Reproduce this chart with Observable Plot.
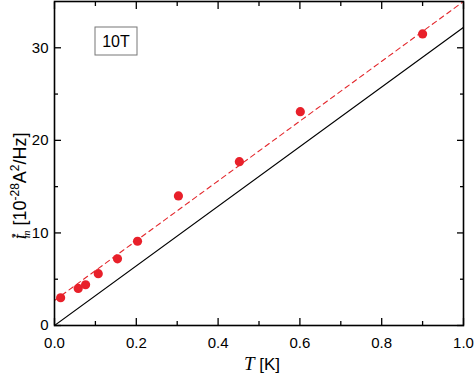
<!DOCTYPE html>
<html>
<head>
<meta charset="utf-8">
<script src="https://cdn.jsdelivr.net/npm/d3@7"></script>
<script src="https://cdn.jsdelivr.net/npm/@observablehq/plot@0.6"></script>
<style>
  html, body { margin: 0; padding: 0; background: #fff; }
  #chart { position: relative; width: 474px; height: 375px; }
</style>
</head>
<body>
<div id="chart"></div>
<script>
// Measured points
const temps = [0.015, 0.058, 0.076, 0.107, 0.154, 0.203, 0.303, 0.452, 0.601, 0.900];
const noise = [3.0, 4.0, 4.4, 5.6, 7.2, 9.1, 14.0, 17.7, 23.1, 31.5];
// Line endpoints
const lineT = [0, 1];
const dashedY = [2.7, 35.0];
const solidY = [0, 32.2];
// Ticks
const xMajor = [0, 0.2, 0.4, 0.6, 0.8, 1.0];
const xMinor = [0.1, 0.3, 0.5, 0.7, 0.9];
const yMajor = [0, 10, 20, 30];
const yMinor = [5, 15, 25];
const legendLabel = "10T";

const pts = temps.map((t, i) => ({T: t, v: noise[i]}));
const dashed = lineT.map((t, i) => ({T: t, v: dashedY[i]}));
const solid = lineT.map((t, i) => ({T: t, v: solidY[i]}));

const font = "Liberation Sans, Arial, sans-serif";
const serif = "Liberation Serif, Times New Roman, serif";

const plot = Plot.plot({
  width: 474,
  height: 375,
  marginLeft: 54,
  marginRight: 11,
  marginTop: 1,
  marginBottom: 50,
  style: {fontFamily: font, fontSize: "14px", color: "#000", background: "#fff"},
  x: {domain: [0, 1]},
  y: {domain: [0, 35]},
  marks: [
    Plot.line(solid, {x: "T", y: "v", stroke: "#000", strokeWidth: 1.1, clip: true}),
    Plot.line(dashed, {x: "T", y: "v", stroke: "#e3262b", strokeWidth: 1.1, strokeDasharray: "5,4", clip: true}),
    Plot.dot(pts, {x: "T", y: "v", r: 4.6, fill: "#e8202a", stroke: "none"}),
    // bottom axis
    Plot.axisX(xMajor, {anchor: "bottom", tickSize: -7, tickPadding: 19, tickFormat: d3.format(".1f"), label: null, fontSize: 15, strokeWidth: 1.3}),
    Plot.axisX(xMinor, {anchor: "bottom", tickSize: -4, text: null, label: null, strokeWidth: 1.3}),
    Plot.axisX(xMajor, {anchor: "top", tickSize: -7, text: null, label: null, strokeWidth: 1.3}),
    Plot.axisX(xMinor, {anchor: "top", tickSize: -4, text: null, label: null, strokeWidth: 1.3}),
    // left axis
    Plot.axisY(yMajor, {anchor: "left", tickSize: -7, tickPadding: 13, tickFormat: d3.format("d"), label: null, fontSize: 15, strokeWidth: 1.3}),
    Plot.axisY(yMinor, {anchor: "left", tickSize: -4, text: null, label: null, strokeWidth: 1.3}),
    Plot.axisY(yMajor, {anchor: "right", tickSize: -7, text: null, label: null, strokeWidth: 1.3}),
    Plot.axisY(yMinor, {anchor: "right", tickSize: -4, text: null, label: null, strokeWidth: 1.3}),
    Plot.frame({stroke: "#000", strokeWidth: 1.6})
  ]
});

const svg = d3.select(plot);

// x axis label
const xl = svg.append("text")
  .attr("x", 262).attr("y", 370)
  .attr("text-anchor", "middle")
  .style("font-family", font).style("font-size", "17px").attr("fill", "#000");
xl.append("tspan").text("T").style("font-style", "italic").style("font-family", serif).style("font-size", "19px");
xl.append("tspan").text(" [K]");

// y axis label
const yl = svg.append("text")
  .attr("transform", "translate(26,186) rotate(-90)")
  .attr("text-anchor", "middle")
  .style("font-family", font).style("font-size", "18px").attr("fill", "#000");
yl.append("tspan").text("i").style("font-style", "italic").style("font-family", serif).style("font-size", "19px");
yl.append("tspan").text("2").attr("dx", "-4").attr("dy", "-8").style("font-size", "9px");
yl.append("tspan").text("in").attr("dx", "-5").attr("dy", "12").style("font-size", "10px").style("font-style", "italic").style("font-family", serif);
yl.append("tspan").text(" [10").attr("dy", "-4");
yl.append("tspan").text("-28").attr("dy", "-7").style("font-size", "12px");
yl.append("tspan").text("A").attr("dy", "7");
yl.append("tspan").text("2").attr("dy", "-7").style("font-size", "12px");
yl.append("tspan").text("/Hz]").attr("dy", "7");

// legend box
const lg = svg.append("g");
lg.append("rect").attr("x", 95).attr("y", 27).attr("width", 42).attr("height", 28)
  .attr("fill", "#fff").attr("stroke", "#777").attr("stroke-width", 1);
lg.append("text").attr("x", 116).attr("y", 47).attr("text-anchor", "middle")
  .style("font-family", font).style("font-size", "16px").attr("fill", "#000").text(legendLabel);

document.getElementById("chart").appendChild(plot);
</script>
</body>
</html>
